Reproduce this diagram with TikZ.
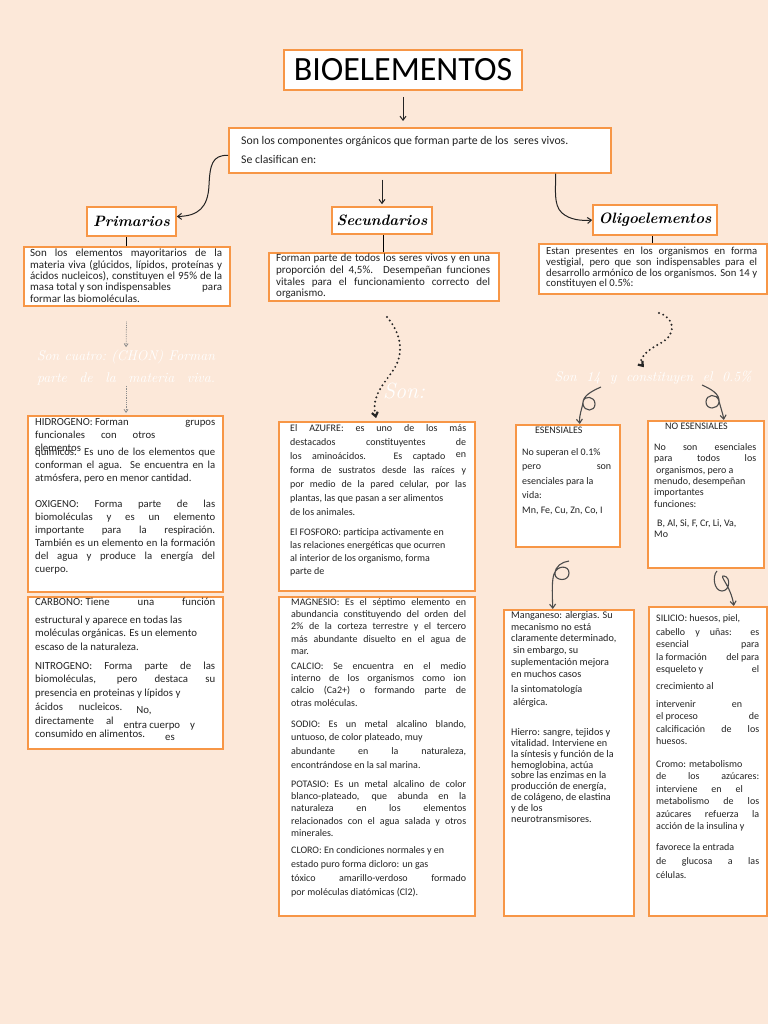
\documentclass[tikz,border=0pt]{standalone}
\usepackage{fontspec}
\newfontfamily\boxfont{Carlito}
\usetikzlibrary{arrows.meta,positioning}
\hyphenpenalty=10000
\exhyphenpenalty=10000
\tolerance=10000
\hbadness=10000
\newcommand{\bxsz}[2]{\boxfont\fontsize{#1}{#2}\selectfont}

\definecolor{peach}{RGB}{252,232,217}
\definecolor{boxorange}{RGB}{247,150,70}
\definecolor{ink}{RGB}{35,35,35}

\tikzset{
  blk/.style={draw=boxorange,line width=1.6pt,fill=white,rectangle,inner sep=0pt},
  txtblk/.style={blk,anchor=north west},
  hdrblk/.style={blk,font=\fontsize{15}{15}\selectfont\bfseries\itshape},
  txt/.style={text=ink,align=justify,inner sep=0pt,anchor=north west},
  faint/.style={text=white,font=\fontsize{14}{22}\selectfont\itshape,inner sep=0pt},
  arr/.style={-{Straight Barb[length=4pt,width=6pt]},line width=1pt,draw=ink},
  loopy/.style={arr,line width=1.1pt,draw=black!70},
  dotarr/.style={-{Straight Barb[length=3pt,width=4pt]},densely dotted,line width=0.8pt,draw=black!45},
  bigdots/.style={-{Straight Barb[length=4pt,width=6pt]},line width=2.2pt,line cap=round,dash pattern=on 0pt off 4.5pt,draw=black!85},
  conn/.style={line width=1.3pt,draw=black}
}

\begin{document}
\begin{tikzpicture}[x=1pt,y=-1pt]
  \fill[peach] (0,0) rectangle (768,1024);
  \useasboundingbox (0,0) rectangle (768,1024);

  % top
  \node[blk,minimum width=238pt,minimum height=40pt,font=\bxsz{34}{34}] (title) at (403,70) {BIOELEMENTOS};
  \node[txtblk,minimum width=382pt,minimum height=45pt] (main) at (228,127) {};
  \node[txt,align=left,font=\bxsz{11.75}{19},below right=9pt and 13pt of main.north west] (maintxt)
    {Son los componentes orgánicos que forman parte de los\ \ seres vivos.\\Se clasifican en:};

  % the three groups
  \node[hdrblk,minimum width=89pt,minimum height=29pt] (prim) at (131.5,221.5) {Primarios};
  \node[hdrblk,minimum width=100pt,minimum height=27pt] (sec) at (382,220.5) {Secundarios};
  \node[hdrblk,minimum width=124pt,minimum height=30pt] (olig) at (655,220) {Oligoelementos};

  \node[txtblk,minimum width=206pt,minimum height=59pt] (primdesc) at (23,246) {};
  \node[txt,font=\bxsz{11}{11.3},text width=192pt,below right=3pt and 7pt of primdesc.north west] (primtxt)
    {Son los elementos mayoritarios de la\linebreak materia viva (glúcidos, lípidos, proteínas y\linebreak
     ácidos nucleicos), constituyen el 95\% de la\linebreak masa total y son indispensables\hfill para\linebreak
     formar las biomoléculas.};
  \node[txtblk,minimum width=230pt,minimum height=48pt] (secdesc) at (268,252) {};
  \node[txt,font=\bxsz{11}{11.7},text width=214pt,below right=2pt and 8pt of secdesc.north west] (sectxt)
    {Forman parte de todos los seres vivos y en una\linebreak proporción del 4,5\%. Desempeñan funciones\linebreak
     vitales para el funcionamiento correcto del\linebreak organismo.};
  \node[txtblk,minimum width=228pt,minimum height=50pt] (oligdesc) at (538,243) {};
  \node[txt,font=\bxsz{10.7}{10.7},text width=211pt,below right=4pt and 8pt of oligdesc.north west] (oligtxt)
    {Estan presentes en los organismos en forma\linebreak vestigial, pero que son indispensables para el\linebreak
     desarrollo armónico de los organismos. Son 14 y\linebreak constituyen el 0.5\%:};

  \draw[conn] (primdesc.north) -- (primdesc.north |- prim.south);
  \draw[conn] (secdesc.north) -- (secdesc.north |- sec.south);
  \draw[conn] (oligdesc.north) -- (oligdesc.north |- olig.south);

  \draw[arr,shorten <=6pt,shorten >=6pt] (title.south) -- (title.south |- main.north);
  \draw[arr,shorten <=6pt,shorten >=2pt] (sec.north |- main.south) -- (sec.north);
  \draw[arr] ([yshift=-5pt]main.west) .. controls (212,155) and (210,165) .. (209,185)
    .. controls (208,208) and (198,216) .. ([yshift=5pt]prim.east);
  \draw[arr] ([xshift=-56pt]main.south east) .. controls (556,188) and (553,205) .. (562,213)
    .. controls (570,220) and (582,221) .. (olig.west);

  % faint labels
  \node[faint,text width=178pt,align=left] (chon) at (126,368)
    {Son\hfill cuatro:\hfill (CHON)\hfill Forman\par
     parte\hfill de\hfill la\hfill materia\hfill viva.};
  \node[faint,font=\fontsize{22}{22}\selectfont\itshape] (son) at (404,391) {Son:};
  \node[faint,text width=197pt,align=left] (oligfaint) at (653,378)
    {Son\hfill 14\hfill y\hfill constituyen\hfill el\hfill 0.5\%};

  % primarios
  \node[txtblk,minimum width=195pt,minimum height=176pt] (hidro) at (27,415) {};
  \node[txt,font=\bxsz{10.7}{13},text width=180pt,below right=3pt and 8pt of hidro.north west] (hidrotxt)
    {HIDROGENO: Forman\hfill grupos\newline
     funcionales\hspace{16pt}con\hspace{16pt}otros\newline
     elementos\par\vspace{-9pt}
     químicos. Es uno de los elementos que\linebreak
     conforman el agua. Se encuentra en la\linebreak
     atmósfera, pero en menor cantidad.\par\vspace{13pt}
     OXIGENO: Forma parte de las\linebreak
     biomoléculas y es un elemento\linebreak
     importante para la respiración.\linebreak
     También es un elemento en la formación\linebreak
     del agua y produce la energía del\linebreak
     cuerpo.};
  \node[txtblk,minimum width=195pt,minimum height=152pt] (carbono) at (27,596) {};
  \node[txt,font=\bxsz{10.8}{13.3},text width=180pt,below right=2pt and 8pt of carbono.north west] (carbtxt)
    {CARBONO: Tiene\hfill una\hfill función\par\vspace{4.7pt}
     estructural y aparece en todas las\newline
     moléculas orgánicas. Es un elemento\newline
     escaso de la naturaleza.\par\vspace{6pt}
     NITROGENO: Forma parte de las\linebreak
     biomoléculas, pero destaca su\linebreak
     presencia en proteinas y lípidos y\par\vspace{1.5pt}
     ácidos\hspace{16pt}nucleicos.\hspace{14pt}\raisebox{-3pt}{No,}\newline
     directamente\hspace{12pt}al\hspace{10pt}\raisebox{-4pt}{entra cuerpo\hspace{10pt}y}\newline
     consumido en alimentos.\hspace{20pt}\raisebox{-3pt}{es}};

  \draw[dotarr,shorten <=15pt,shorten >=3pt] (primdesc.south) -- (chon.north);
  \draw[dotarr,shorten >=2pt] (chon.south) -- (chon.south |- hidro.north);

  % secundarios
  \node[txtblk,minimum width=196pt,minimum height=169pt] (azufre) at (278,421) {};
  \node[txt,font=\bxsz{10}{14},text width=176pt,below right=3pt and 12pt of azufre.north west] (azutxt)
    {El AZUFRE: es uno de los más\linebreak
     destacados constituyentes de\linebreak
     los aminoácidos. Es captado \raisebox{2pt}{en}\linebreak
     forma de sustratos desde las raíces y\linebreak
     por medio de la pared celular, por las\linebreak
     plantas, las que pasan a ser alimentos\newline
     de los animales.\par\vspace{7pt}
     {\bxsz{10}{13}El FOSFORO: participa activamente en\newline
     las relaciones energéticas que ocurren\newline
     al interior de los organismo, forma\newline
     parte de\par}};
  \node[txtblk,minimum width=196pt,minimum height=319pt] (magnesio) at (278,596) {};
  \node[txt,font=\bxsz{10}{12.3},text width=175pt,below right=2pt and 13pt of magnesio.north west] (magtxt)
    {MAGNESIO: Es el séptimo elemento en\linebreak
     abundancia constituyendo del orden del\linebreak
     2\% de la corteza terrestre y el tercero\linebreak
     más abundante disuelto en el agua de\linebreak
     mar.\par\vspace{2.5pt}
     CALCIO: Se encuentra en el medio\linebreak
     interno de los organismos como ion\linebreak
     calcio (Ca2+) o formando parte de\linebreak
     otras moléculas.\par\vspace{7.5pt}
     {\bxsz{10}{13.7}SODIO: Es un metal alcalino blando,\linebreak
     untuoso, de color plateado, muy\newline
     abundante en la naturaleza,\linebreak
     encontrándose en la sal marina.\par}\vspace{6.5pt}
     POTASIO: Es un metal alcalino de color\linebreak
     blanco-plateado, que abunda en la\linebreak
     naturaleza en los elementos\linebreak
     relacionados con el agua salada y otros\linebreak
     minerales.\par\vspace{3.5pt}
     {\bxsz{10}{14}CLORO: En condiciones normales y en\newline
     estado puro forma dicloro: un gas\newline
     tóxico amarillo-verdoso formado\linebreak
     por moléculas diatómicas (Cl2).\par}};

  \coordinate (secdot) at (387,317);
  \draw[bigdots,shorten >=3pt] (secdot) .. controls (400,332) and (405,352) .. (394,369)
    .. controls (384,384) and (371,396) .. (azufre.north);

  % oligoelementos
  \node[txtblk,minimum width=104pt,minimum height=122pt] (esen) at (515,424) {};
  \node[txt,font=\bxsz{10}{14.5},text width=89pt,below right=3pt and 7pt of esen.north west] (esentxt)
    {\hspace*{13pt}ESENSIALES\par\vspace{7pt}
     No superan el 0.1\%\newline
     pero\hfill son\newline
     esenciales para la\newline
     vida:\newline
     Mn, Fe, Cu, Zn, Co, I};
  \node[txtblk,minimum width=116pt,minimum height=147pt] (noesen) at (647,420) {};
  \node[txt,font=\bxsz{10}{11.3},text width=102pt,below right=3pt and 7pt of noesen.north west] (noesentxt)
    {\hspace*{11pt}NO ESENSIALES\par\vspace{9.7pt}
     No\hfill son\hfill esenciales\par
     para\hfill todos\hfill los\par
     \hspace*{2pt}organismos,~pero~a\par
     menudo, desempeñan\par
     importantes\par
     funciones:\par\vspace{8.2pt}
     \hspace*{3pt}B, Al, Si, F, Cr, Li, Va,\par
     Mo};
  \node[txtblk,minimum width=130pt,minimum height=306pt] (mang) at (503,609) {};
  \node[txt,font=\bxsz{10.2}{11.8},text width=118pt,below right=2pt and 8pt of mang.north west] (mangtxt)
    {Manganeso: alergias. Su\newline
     mecanismo no está\newline
     claramente determinado,\newline
     \hspace*{2pt}sin embargo, su\newline
     suplementación mejora\newline
     en muchos casos\par\vspace{3.2pt}
     la sintomatología\par\vspace{1.2pt}
     \hspace*{2pt}alérgica.\par\vspace{19.2pt}
     {\bxsz{10.2}{10.9}Hierro: sangre, tejidos y\newline
     vitalidad. Interviene en\newline
     la síntesis y función de la\newline
     hemoglobina, actúa\newline
     sobre las enzimas en la\newline
     producción de energía,\newline
     de colágeno, de elastina\newline
     y de los\newline
     neurotransmisores.\par}};
  \node[txtblk,minimum width=118pt,minimum height=309pt] (silicio) at (648,606) {};
  \node[txt,font=\bxsz{10}{12.5},text width=103pt,below right=8pt and 8pt of silicio.north west] (silitxt)
    {SILICIO: huesos, piel,\par\vspace{1.5pt}
     cabello y uñas: es\linebreak
     esencial para\linebreak
     la formación\hfill del para\linebreak
     esqueleto y\hfill el\par\vspace{4pt}
     crecimiento al\par\vspace{5.5pt}
     intervenir\hspace{36pt}en\newline
     el proceso\hfill de\linebreak
     calcificación de los\linebreak
     huesos.\par\vspace{10pt}
     Cromo: metabolismo\newline
     de los azúcares:\linebreak
     interviene\hspace{14pt}en\hspace{14pt}el\newline
     metabolismo de los\linebreak
     azúcares refuerza la\linebreak
     acción de la insulina y\par\vspace{7pt}
     {\bxsz{10}{14}favorece la entrada\newline
     de glucosa a las\linebreak
     células.\par}};

  \coordinate (oligdot) at (659,313);
  \draw[bigdots,shorten >=5pt] (oligdot) .. controls (675,318) and (677,334) .. (661,343)
    .. controls (645,351) and (638,360) .. ([xshift=-6pt]oligfaint.north);

  \coordinate (esloop) at (601,387);
  \coordinate (noloop) at (702,385);
  \coordinate (mnloop) at (569,561);
  \coordinate (siloop) at (717,571);
  \draw[loopy] (esloop) .. controls (592,391) and (582,396) .. (583,404)
    .. controls (584,412) and (595,412) .. (595,404)
    .. controls (595,396) and (584,395) .. (583,402)
    .. controls (582,410) and (579,414) .. ([xshift=12pt]esen.north);
  \draw[loopy] (noloop) .. controls (711,389) and (720,394) .. (719,402)
    .. controls (718,410) and (706,410) .. (706,402)
    .. controls (706,394) and (717,393) .. (719,401)
    .. controls (721,409) and (723,414) .. ([xshift=18pt]noesen.north);
  \draw[loopy] (mnloop) .. controls (562,562) and (555,566) .. (555,574)
    .. controls (555,581) and (569,582) .. (569,573)
    .. controls (569,565) and (557,565) .. (554,574)
    .. controls (552,580) and (552,590) .. ([xshift=-16pt]mang.north);
  \draw[loopy] (siloop) .. controls (712,576) and (714,591) .. (722,591)
    .. controls (730,591) and (731,577) .. (724,576)
    .. controls (718,575) and (731,586) .. ([xshift=26pt]silicio.north);
\end{tikzpicture}
\end{document}
